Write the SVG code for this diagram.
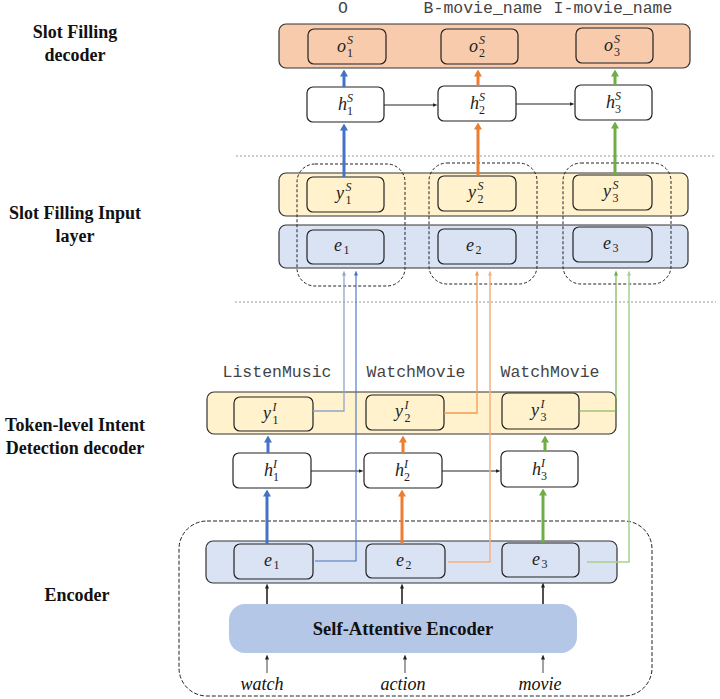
<svg xmlns="http://www.w3.org/2000/svg" width="720" height="699" viewBox="0 0 720 699">
<style>
.lbl{font-family:"Liberation Serif",serif;font-weight:bold;font-size:18px;text-anchor:middle;fill:#111}
.mono{font-family:"Liberation Mono",monospace;font-size:16.5px;text-anchor:middle;fill:#444}
.m{font-family:"Liberation Serif",serif;font-style:italic;font-size:18px;fill:#222}
.sup{font-style:italic;font-size:12px}
.sub{font-style:normal;font-size:12px}
.word{font-family:"Liberation Serif",serif;font-style:italic;font-size:18px;text-anchor:middle;fill:#111}
.orange{fill:#f8cbad;stroke:#333;stroke-width:1.2}
.yellow{fill:#fff2cc;stroke:#333;stroke-width:1.2}
.blue{fill:#dae3f3;stroke:#333;stroke-width:1.2}
.inner{fill:none;stroke:#222;stroke-width:1.2}
.white{fill:#fff;stroke:#222;stroke-width:1.2}
.grp{fill:none;stroke:#222;stroke-width:1;stroke-dasharray:3 2}
.sep{stroke:#999;stroke-width:1;stroke-dasharray:2 2}
.thin{fill:none;stroke:#222;stroke-width:1}
</style>
<defs>
<marker id="hB" viewBox="0 0 7 8" refX="0.5" refY="4" markerWidth="7" markerHeight="8" markerUnits="userSpaceOnUse" orient="auto"><path d="M0,0L7,4L0,8z" fill="#4472c4"/></marker>
<marker id="hO" viewBox="0 0 7 8" refX="0.5" refY="4" markerWidth="7" markerHeight="8" markerUnits="userSpaceOnUse" orient="auto"><path d="M0,0L7,4L0,8z" fill="#ed7d31"/></marker>
<marker id="hG" viewBox="0 0 7 8" refX="0.5" refY="4" markerWidth="7" markerHeight="8" markerUnits="userSpaceOnUse" orient="auto"><path d="M0,0L7,4L0,8z" fill="#70ad47"/></marker>
<marker id="tK" viewBox="0 0 5 4" refX="0.5" refY="2" markerWidth="5" markerHeight="4" markerUnits="userSpaceOnUse" orient="auto"><path d="M0,0L5,2L0,4z" fill="#222"/></marker>
<marker id="tB1" viewBox="0 0 5 4" refX="0.5" refY="2" markerWidth="5" markerHeight="4" markerUnits="userSpaceOnUse" orient="auto"><path d="M0,0L5,2L0,4z" fill="#8fa5cc"/></marker>
<marker id="tB2" viewBox="0 0 5 4" refX="0.5" refY="2" markerWidth="5" markerHeight="4" markerUnits="userSpaceOnUse" orient="auto"><path d="M0,0L5,2L0,4z" fill="#4472c4"/></marker>
<marker id="tO1" viewBox="0 0 5 4" refX="0.5" refY="2" markerWidth="5" markerHeight="4" markerUnits="userSpaceOnUse" orient="auto"><path d="M0,0L5,2L0,4z" fill="#ee9a55"/></marker>
<marker id="tO2" viewBox="0 0 5 4" refX="0.5" refY="2" markerWidth="5" markerHeight="4" markerUnits="userSpaceOnUse" orient="auto"><path d="M0,0L5,2L0,4z" fill="#f4b183"/></marker>
<marker id="tG1" viewBox="0 0 5 4" refX="0.5" refY="2" markerWidth="5" markerHeight="4" markerUnits="userSpaceOnUse" orient="auto"><path d="M0,0L5,2L0,4z" fill="#70ad47"/></marker>
<marker id="tG2" viewBox="0 0 5 4" refX="0.5" refY="2" markerWidth="5" markerHeight="4" markerUnits="userSpaceOnUse" orient="auto"><path d="M0,0L5,2L0,4z" fill="#a9d18e"/></marker>
</defs>
<rect width="720" height="699" fill="#fff"/>

<g id="labels">
<text class="lbl" x="75" y="38">Slot Filling</text>
<text class="lbl" x="75" y="61">decoder</text>
<text class="lbl" x="75" y="219">Slot Filling Input</text>
<text class="lbl" x="75" y="242">layer</text>
<text class="lbl" x="75" y="431">Token-level Intent</text>
<text class="lbl" x="75" y="454">Detection decoder</text>
<text class="lbl" x="77" y="601">Encoder</text>
</g>

<g id="separators">
<line class="sep" x1="236" y1="156" x2="716" y2="156"/>
<line class="sep" x1="235" y1="302" x2="716" y2="302"/>
</g>

<g id="output-labels">
<text class="mono" x="343" y="13">O</text>
<text class="mono" x="483" y="13">B-movie_name</text>
<text class="mono" x="613" y="13">I-movie_name</text>
<text class="mono" x="277" y="377">ListenMusic</text>
<text class="mono" x="416" y="377">WatchMovie</text>
<text class="mono" x="550" y="377">WatchMovie</text>
</g>

<!-- Slot filling decoder -->
<g id="slot-decoder"><rect class="orange" x="279" y="24" width="411" height="44" rx="7"/></g>
<g id="o1"><rect class="inner" x="308" y="29" width="78" height="35" rx="6"/>
<text class="m" x="337" y="52">o<tspan class="sup" x="347" y="44">S</tspan><tspan class="sub" x="347" y="57">1</tspan></text></g>
<g id="o2"><rect class="inner" x="441" y="29" width="77" height="35" rx="6"/>
<text class="m" x="469" y="52">o<tspan class="sup" x="479" y="44">S</tspan><tspan class="sub" x="479" y="57">2</tspan></text></g>
<g id="o3"><rect class="inner" x="576" y="28" width="77" height="35" rx="6"/>
<text class="m" x="604" y="51">o<tspan class="sup" x="614" y="43">S</tspan><tspan class="sub" x="614" y="56">3</tspan></text></g>

<g id="hS1"><rect class="white" x="307" y="87" width="77" height="35" rx="6"/>
<text class="m" x="338" y="110">h<tspan class="sup" x="347" y="102">S</tspan><tspan class="sub" x="347" y="115">1</tspan></text></g>
<g id="hS2"><rect class="white" x="438" y="86" width="78" height="35" rx="6"/>
<text class="m" x="470" y="109">h<tspan class="sup" x="479" y="101">S</tspan><tspan class="sub" x="479" y="114">2</tspan></text></g>
<g id="hS3"><rect class="white" x="575" y="85" width="77" height="35" rx="6"/>
<text class="m" x="606" y="108">h<tspan class="sup" x="615" y="100">S</tspan><tspan class="sub" x="615" y="113">3</tspan></text></g>

<!-- Slot filling input layer -->
<g id="slot-input-y"><rect class="yellow" x="279" y="173" width="409" height="43" rx="7"/></g>
<g id="slot-input-e"><rect class="blue" x="279" y="225" width="409" height="43" rx="7"/></g>
<g id="yS1"><rect class="inner" x="307" y="177" width="77" height="35" rx="6"/>
<text class="m" x="336" y="199">y<tspan class="sup" x="345.5" y="191">S</tspan><tspan class="sub" x="345.5" y="204">1</tspan></text></g>
<g id="yS2"><rect class="inner" x="438" y="176" width="78" height="35" rx="6"/>
<text class="m" x="468" y="198">y<tspan class="sup" x="477.5" y="190">S</tspan><tspan class="sub" x="477.5" y="203">2</tspan></text></g>
<g id="yS3"><rect class="inner" x="573" y="175" width="79" height="35" rx="6"/>
<text class="m" x="603" y="197">y<tspan class="sup" x="612.5" y="189">S</tspan><tspan class="sub" x="612.5" y="202">3</tspan></text></g>
<g id="eS1"><rect class="inner" x="307" y="230" width="77" height="34" rx="6"/>
<text class="m" x="334" y="251">e<tspan class="sub" x="343.5" y="254">1</tspan></text></g>
<g id="eS2"><rect class="inner" x="438" y="229" width="78" height="35" rx="6"/>
<text class="m" x="466" y="251">e<tspan class="sub" x="475.5" y="254">2</tspan></text></g>
<g id="eS3"><rect class="inner" x="573" y="227" width="79" height="35" rx="6"/>
<text class="m" x="603" y="249">e<tspan class="sub" x="612.5" y="252">3</tspan></text></g>
<g id="grp1"><rect class="grp" x="297" y="164" width="108" height="122" rx="18"/></g>
<g id="grp2"><rect class="grp" x="429" y="163" width="108" height="121" rx="18"/></g>
<g id="grp3"><rect class="grp" x="563" y="163" width="108" height="121" rx="18"/></g>

<!-- Intent decoder -->
<g id="intent-decoder"><rect class="yellow" x="207" y="392" width="409" height="42" rx="7"/></g>
<g id="yI1"><rect class="inner" x="234" y="397" width="79" height="34" rx="6"/>
<text class="m" x="263" y="419">y<tspan class="sup" x="272.5" y="411">I</tspan><tspan class="sub" x="272.5" y="424">1</tspan></text></g>
<g id="yI2"><rect class="inner" x="366" y="395" width="78" height="35" rx="6"/>
<text class="m" x="395" y="417">y<tspan class="sup" x="404.5" y="409">I</tspan><tspan class="sub" x="404.5" y="422">2</tspan></text></g>
<g id="yI3"><rect class="inner" x="502" y="393" width="77" height="36" rx="6"/>
<text class="m" x="531" y="416">y<tspan class="sup" x="540.5" y="408">I</tspan><tspan class="sub" x="540.5" y="421">3</tspan></text></g>
<g id="hI1"><rect class="white" x="233" y="453" width="78" height="35" rx="6"/>
<text class="m" x="264" y="476">h<tspan class="sup" x="273" y="468">I</tspan><tspan class="sub" x="273" y="481">1</tspan></text></g>
<g id="hI2"><rect class="white" x="364" y="453" width="78" height="35" rx="6"/>
<text class="m" x="395" y="476">h<tspan class="sup" x="404" y="468">I</tspan><tspan class="sub" x="404" y="481">2</tspan></text></g>
<g id="hI3"><rect class="white" x="501" y="451" width="77" height="36" rx="6"/>
<text class="m" x="532" y="475">h<tspan class="sup" x="541" y="467">I</tspan><tspan class="sub" x="541" y="480">3</tspan></text></g>

<!-- Encoder -->
<g id="encoder"><rect class="grp" x="179" y="521" width="473" height="175" rx="28" style="stroke-dasharray:4 2"/></g>
<g id="enc-band"><rect class="blue" x="206" y="541" width="411" height="42" rx="7"/></g>
<g id="e1"><rect class="inner" x="234" y="544" width="79" height="35" rx="6"/>
<text class="m" x="264" y="566">e<tspan class="sub" x="273.5" y="569">1</tspan></text></g>
<g id="e2"><rect class="inner" x="366" y="544" width="79" height="34" rx="6"/>
<text class="m" x="396" y="566">e<tspan class="sub" x="405.5" y="569">2</tspan></text></g>
<g id="e3"><rect class="inner" x="502" y="543" width="77" height="34" rx="6"/>
<text class="m" x="532" y="565">e<tspan class="sub" x="541.5" y="568">3</tspan></text></g>
<g id="sae"><rect x="229" y="604" width="348" height="49" rx="16" fill="#b4c7e7"/>
<text class="lbl" x="403" y="635" style="font-size:18.5px">Self-Attentive Encoder</text></g>
<g id="words">
<text class="word" x="262" y="690">watch</text>
<text class="word" x="403" y="690">action</text>
<text class="word" x="540" y="690">movie</text>
</g>

<g id="connectors" fill="none">
<line x1="344" y1="87" x2="344" y2="76" stroke="#4472c4" stroke-width="3" marker-end="url(#hB)"/>
<line x1="478" y1="86" x2="478" y2="76" stroke="#ed7d31" stroke-width="3" marker-end="url(#hO)"/>
<line x1="615" y1="85" x2="615" y2="76" stroke="#70ad47" stroke-width="3" marker-end="url(#hG)"/>
<line x1="344" y1="177" x2="344" y2="130" stroke="#4472c4" stroke-width="3" marker-end="url(#hB)"/>
<line x1="478" y1="176" x2="478" y2="129" stroke="#ed7d31" stroke-width="3" marker-end="url(#hO)"/>
<line x1="615" y1="175" x2="615" y2="128" stroke="#70ad47" stroke-width="3" marker-end="url(#hG)"/>
<line class="thin" x1="384" y1="105" x2="433" y2="105" marker-end="url(#tK)"/>
<line class="thin" x1="516" y1="104" x2="570" y2="104" marker-end="url(#tK)"/>
<line x1="268" y1="453" x2="268" y2="442" stroke="#4472c4" stroke-width="3" marker-end="url(#hB)"/>
<line x1="403" y1="453" x2="403" y2="442" stroke="#ed7d31" stroke-width="3" marker-end="url(#hO)"/>
<line x1="545" y1="451" x2="545" y2="442" stroke="#70ad47" stroke-width="3" marker-end="url(#hG)"/>
<line x1="267" y1="544" x2="267" y2="496" stroke="#4472c4" stroke-width="3" marker-end="url(#hB)"/>
<line x1="402" y1="544" x2="402" y2="496" stroke="#ed7d31" stroke-width="3" marker-end="url(#hO)"/>
<line x1="543" y1="543" x2="543" y2="495" stroke="#70ad47" stroke-width="3" marker-end="url(#hG)"/>
<line class="thin" x1="311" y1="471" x2="359" y2="471" marker-end="url(#tK)"/>
<line class="thin" x1="442" y1="471" x2="496" y2="471" marker-end="url(#tK)"/>
<line x1="267" y1="604" x2="267" y2="588" stroke="#222" stroke-width="1.6" marker-end="url(#tK)"/>
<line x1="402" y1="604" x2="402" y2="588" stroke="#222" stroke-width="1.6" marker-end="url(#tK)"/>
<line x1="543" y1="604" x2="543" y2="587" stroke="#222" stroke-width="1.6" marker-end="url(#tK)"/>
<line x1="267" y1="673" x2="267" y2="659" stroke="#444" stroke-width="1" marker-end="url(#tK)"/>
<line x1="405" y1="673" x2="405" y2="659" stroke="#444" stroke-width="1" marker-end="url(#tK)"/>
<line x1="543" y1="673" x2="543" y2="659" stroke="#444" stroke-width="1" marker-end="url(#tK)"/>
<polyline points="313,411 344,411 344,275" stroke="#8fa5cc" stroke-width="1.3" marker-end="url(#tB1)"/>
<polyline points="444,413 477,413 477,275" stroke="#ee9a55" stroke-width="1.3" marker-end="url(#tO1)"/>
<polyline points="579,411 616,411 616,275" stroke="#70ad47" stroke-width="1.1" marker-end="url(#tG1)"/>
<polyline points="315,561 356,561 356,275" stroke="#4472c4" stroke-width="1.1" marker-end="url(#tB2)"/>
<polyline points="448,562 490,562 490,275" stroke="#f4b183" stroke-width="1.5" marker-end="url(#tO2)"/>
<polyline points="587,562 629,562 629,275" stroke="#a9d18e" stroke-width="1.5" marker-end="url(#tG2)"/>
</g>
</svg>
